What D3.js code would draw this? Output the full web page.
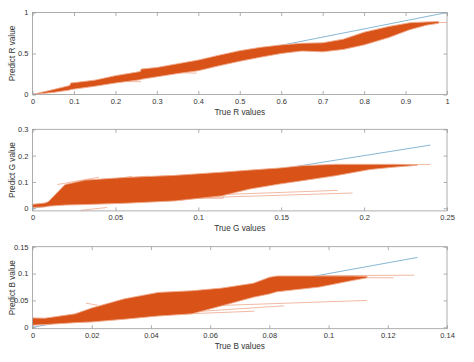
<!DOCTYPE html>
<html>
<head>
<meta charset="utf-8">
<script src="https://cdn.jsdelivr.net/npm/d3@7.9.0/dist/d3.min.js"></script>
<style>
  html, body { margin: 0; padding: 0; background: #fff; }
  svg { display: block; font-family: "Liberation Sans", Arial, sans-serif; }
  .tick text { fill: #333; font-size: 7.5px; }
  .tick line { stroke: #9a9a9a; stroke-width: 0.8; }
</style>
</head>
<body>
<div id="chart"></div>
<script>
// ---- R panel: band of predicted values ----
const rX     = [0, 0.05, 0.09, 0.092, 0.15, 0.2, 0.26, 0.262, 0.3, 0.35, 0.4, 0.45, 0.5, 0.55, 0.6, 0.65, 0.7, 0.75, 0.8, 0.86, 0.91, 0.95, 0.98];
const rUpper = [0, 0.06, 0.11, 0.14, 0.175, 0.23, 0.28, 0.31, 0.33, 0.375, 0.42, 0.48, 0.535, 0.575, 0.605, 0.625, 0.63, 0.675, 0.76, 0.83, 0.875, 0.885, 0.89];
const rLower = [0, 0.025, 0.055, 0.06, 0.1, 0.14, 0.18, 0.185, 0.215, 0.255, 0.29, 0.35, 0.405, 0.455, 0.5, 0.53, 0.52, 0.55, 0.605, 0.695, 0.79, 0.845, 0.868];
const rStrays = [
  [[0.31, 0.275], [0.396, 0.26]],
  [[0.2, 0.16], [0.262, 0.155]],
  [[0.95, 0.876], [1.0, 0.878]]
];
const rTicksX = [0, 0.1, 0.2, 0.3, 0.4, 0.5, 0.6, 0.7, 0.8, 0.9, 1];
const rTicksY = [0, 0.5, 1];

// ---- G panel ----
const gX     = [0, 0.0075, 0.0095, 0.0196, 0.0317, 0.0558, 0.086, 0.114, 0.131, 0.149, 0.163, 0.183, 0.2035, 0.2175, 0.232];
const gUpper = [0.015, 0.02, 0.025, 0.09, 0.107, 0.117, 0.125, 0.137, 0.145, 0.153, 0.162, 0.167, 0.167, 0.167, 0.166];
const gLower = [0.003, 0.005, 0.008, 0.012, 0.014, 0.019, 0.028, 0.047, 0.073, 0.092, 0.105, 0.124, 0.147, 0.156, 0.163];
const gStrays = [
  [[0.015, 0.09], [0.04, 0.118]],
  [[0.02, 0.085], [0.06, 0.121]],
  [[0.03, 0.1], [0.07, 0.122]],
  [[0.04, 0.035], [0.184, 0.068]],
  [[0.05, 0.03], [0.193, 0.058]],
  [[0.06, 0.038], [0.115, 0.038], [0.115, 0.048]],
  [[0.029, -0.008], [0.045, 0.003]],
  [[0.225, 0.166], [0.24, 0.166]]
];
const gTicksX = [0, 0.05, 0.1, 0.15, 0.2, 0.25];
const gTicksY = [0, 0.1, 0.2, 0.3];

// ---- B panel ----
const bX     = [0, 0.0042, 0.0144, 0.02, 0.031, 0.0425, 0.0538, 0.064, 0.0746, 0.08, 0.0825, 0.097, 0.108, 0.113];
const bUpper = [0.0175, 0.017, 0.025, 0.036, 0.053, 0.065, 0.068, 0.073, 0.082, 0.093, 0.0955, 0.0955, 0.0955, 0.095];
const bLower = [0.004, 0.005, 0.0086, 0.01, 0.015, 0.021, 0.025, 0.04, 0.056, 0.062, 0.066, 0.075, 0.087, 0.092];
const bStrays = [
  [[0.097, 0.096], [0.129, 0.097]],
  [[0.1, 0.093], [0.122, 0.092]],
  [[0.06, 0.04], [0.113, 0.05]],
  [[0.03, 0.02], [0.085, 0.04]],
  [[0.02, 0.018], [0.075, 0.03]],
  [[0.018, 0.045], [0.022, 0.041]]
];
const bTicksX = [0, 0.02, 0.04, 0.06, 0.08, 0.1, 0.12, 0.14];
const bTicksY = [0, 0.05, 0.1, 0.15];

const panels = [
  { x: rX, up: rUpper, lo: rLower, strays: rStrays, diagMax: 1, xDom: [0, 1], yDom: [0, 1],
    tx: rTicksX, ty: rTicksY, xLabel: 'True R values', yLabel: 'Predict R value', top: 12.5, bottom: 94.5 },
  { x: gX, up: gUpper, lo: gLower, strays: gStrays, diagMax: 0.24, xDom: [0, 0.25], yDom: [-0.01, 0.3],
    tx: gTicksX, ty: gTicksY, xLabel: 'True G values', yLabel: 'Predict G value', top: 129.3, bottom: 210.9 },
  { x: bX, up: bUpper, lo: bLower, strays: bStrays, diagMax: 0.13, xDom: [0, 0.14], yDom: [-0.0026, 0.15],
    tx: bTicksX, ty: bTicksY, xLabel: 'True B values', yLabel: 'Predict B value', top: 246.7, bottom: 328.7 }
];

const width = 474, height = 362;
const left = 32.5, right = 447;
const orange = '#d95319', pale = '#efaa8c', blue = '#6aa5cc', axisColor = '#9a9a9a';
const fmt = d => String(+d.toFixed(3));

const svg = d3.select('#chart').append('svg')
  .attr('width', width).attr('height', height);

panels.forEach((p, i) => {
  const xScale = d3.scaleLinear().domain(p.xDom).range([left, right]);
  const yScale = d3.scaleLinear().domain(p.yDom).range([p.bottom, p.top]);

  const clipId = 'clip' + i;
  svg.append('clipPath').attr('id', clipId)
    .append('rect')
    .attr('x', left).attr('y', p.top)
    .attr('width', right - left).attr('height', p.bottom - p.top);

  const g = svg.append('g').attr('clip-path', `url(#${clipId})`);

  // diagonal reference line (drawn first, orange sits on top)
  g.append('line')
    .attr('x1', xScale(0)).attr('y1', yScale(0))
    .attr('x2', xScale(p.diagMax)).attr('y2', yScale(p.diagMax))
    .attr('stroke', blue).attr('stroke-width', 0.8);

  // stray lines
  const line = d3.line().x(d => xScale(d[0])).y(d => yScale(d[1]));
  g.selectAll('path.stray')
    .data(p.strays)
    .join('path')
    .attr('class', 'stray')
    .attr('d', line)
    .attr('fill', 'none')
    .attr('stroke', '#eb9c7b')
    .attr('stroke-width', 0.7);

  // dense band of predictions
  const band = p.x.map((x, k) => ({ x, up: p.up[k], lo: p.lo[k] }));
  const area = d3.area()
    .x(d => xScale(d.x))
    .y0(d => yScale(d.lo))
    .y1(d => yScale(d.up));
  g.append('path')
    .datum(band)
    .attr('d', area)
    .attr('fill', orange)
    .attr('stroke', pale)
    .attr('stroke-width', 0.9)
    .attr('stroke-linejoin', 'round');

  // axes: inward ticks on all four sides
  const xAxis = d3.axisBottom(xScale).tickValues(p.tx).tickFormat(fmt)
    .tickSizeInner(-3.5).tickSizeOuter(0).tickPadding(4);
  const yAxis = d3.axisLeft(yScale).tickValues(p.ty).tickFormat(fmt)
    .tickSizeInner(-3.5).tickSizeOuter(0).tickPadding(4);

  svg.append('g').attr('transform', `translate(0, ${p.bottom})`).call(xAxis)
    .call(a => a.select('.domain').remove());
  svg.append('g').attr('transform', `translate(${left}, 0)`).call(yAxis)
    .call(a => a.select('.domain').remove());
  svg.append('g').attr('transform', `translate(0, ${p.top})`)
    .call(d3.axisTop(xScale).tickValues(p.tx).tickFormat('').tickSizeInner(-3.5).tickSizeOuter(0))
    .call(a => a.select('.domain').remove());
  svg.append('g').attr('transform', `translate(${right}, 0)`)
    .call(d3.axisRight(yScale).tickValues(p.ty).tickFormat('').tickSizeInner(-3.5).tickSizeOuter(0))
    .call(a => a.select('.domain').remove());

  svg.selectAll('.tick text').attr('font-family', null).attr('font-size', null);

  svg.append('rect')
    .attr('x', left).attr('y', p.top)
    .attr('width', right - left).attr('height', p.bottom - p.top)
    .attr('fill', 'none').attr('stroke', axisColor).attr('stroke-width', 0.8);

  svg.append('text')
    .attr('x', (left + right) / 2).attr('y', p.bottom + 20.5)
    .attr('text-anchor', 'middle')
    .attr('font-size', 8.2).attr('fill', '#333')
    .text(p.xLabel);

  svg.append('text')
    .attr('transform', `translate(14.5, ${(p.top + p.bottom) / 2}) rotate(-90)`)
    .attr('text-anchor', 'middle')
    .attr('font-size', 8.2).attr('fill', '#333')
    .text(p.yLabel);
});
</script>
</body>
</html>
